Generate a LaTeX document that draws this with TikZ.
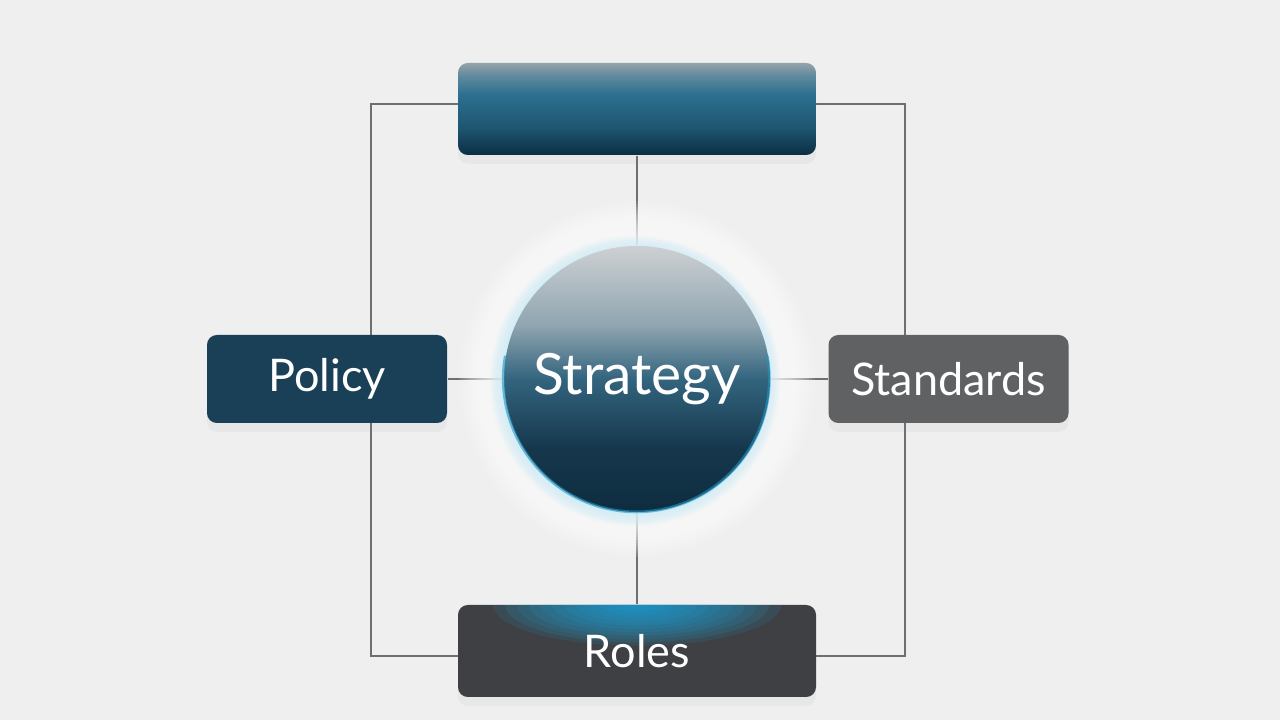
\documentclass[tikz,border=0pt]{standalone}
\usepackage{fontspec}
\setmainfont{Lato}
\usepackage{xcolor}
\usepackage{tikz}
\usetikzlibrary{positioning,shadows}
\definecolor{bgc}{HTML}{EFEFEF}
\definecolor{wirec}{HTML}{6E6F71}
\definecolor{policyc}{HTML}{1A4058}
\definecolor{stdc}{HTML}{5F6163}
\definecolor{rolesc}{HTML}{3E4043}
\definecolor{topa}{HTML}{95A3AA}
\definecolor{topb}{HTML}{2C7090}
\definecolor{topc}{HTML}{0B2E42}
\definecolor{orba}{HTML}{CDD0D2}
\definecolor{orbb}{HTML}{33647E}
\definecolor{orbc}{HTML}{0E2C40}
\definecolor{glowc}{HTML}{1AA8E0}
\definecolor{haloc}{HTML}{BDE8F5}
\pgfdeclarelayer{back}
\pgfdeclarelayer{wires}
\pgfdeclarelayer{glow}
\pgfsetlayers{back,wires,glow,main}
\pgfdeclareverticalshading{topbar}{100bp}{color(0bp)=(topc); color(25bp)=(topc); color(40bp)=(topb!60!topc); color(58bp)=(topb); color(68bp)=(topb!50!topa); color(75bp)=(topa); color(100bp)=(topa)}
\pgfdeclareverticalshading{orbshade}{100bp}{color(0bp)=(orbc); color(25bp)=(orbc); color(37bp)=(orbc!80!orbb); color(50bp)=(orbb); color(60bp)=(orbb!40!orba); color(75bp)=(orba); color(100bp)=(orba)}
\tikzset{tile/.style={rounded corners=2.8pt,minimum width=2.4cm,minimum height=0.88cm,text=white,font=\fontsize{12.8}{15}\selectfont,drop shadow={shadow xshift=0pt,shadow yshift=-2.5pt,opacity=0.07}}}

\begin{document}
\begin{tikzpicture}[wire/.style={draw=wirec,line width=0.5pt},
    wide/.style={tile,minimum width=3.58cm,minimum height=0.92cm},
    orb/.style={circle,minimum size=2.66cm,inner sep=0pt,shading=orbshade,text=white,font=\fontsize{16.2}{18}\selectfont}]
    \useasboundingbox (0,0) rectangle (12.8,7.2);
    \begin{pgfonlayer}{back}
        \fill[bgc] (0,0) rectangle (12.8,7.2);
    \end{pgfonlayer}

    \node[orb] (strat) at (6.37,3.41) {Strategy};
    \node[tile,fill=policyc] (policy) at (3.27,3.41) {Policy};
    \node[tile,fill=stdc] (standards) at (9.485,3.41) {Standards};
    \node[wide,shading=topbar] (goal) at (6.37,6.11) {};
    \node[wide,fill=rolesc,path picture={
        \foreach \i in {1,...,12}
            \fill[glowc,opacity=0.12] (path picture bounding box.north) ellipse [x radius=0.12*\i cm,y radius=0.034*\i cm];
        }] (roles) at (6.37,0.69) {Roles};

    \coordinate (nw) at (3.71,6.16);
    \coordinate (se) at (9.05,0.64);

    \begin{pgfonlayer}{wires}
        \draw[wire] (nw) rectangle (se);
        \draw[wire] (goal) -- (strat);
        \draw[wire] (strat) -- (roles);
        \draw[wire] (policy) -- (strat);
        \draw[wire] (strat) -- (standards);
    \end{pgfonlayer}
    % soft glow round the orb
    \begin{pgfonlayer}{glow}
        \foreach \i in {1,...,16}
            \fill[white,opacity=0.1] (strat.center) circle (1.33+0.028*\i);
        \foreach \i in {1,...,6}
            \fill[haloc,opacity=0.12] ([xshift=-0.02cm,yshift=-0.02cm]strat.center) circle (1.33+0.02*\i);
    \end{pgfonlayer}
    \draw[glowc!70!orbb,line width=0.8pt,opacity=0.6] (strat.170) arc [start angle=170,end angle=370,radius=1.33cm];
\end{tikzpicture}
\end{document}
